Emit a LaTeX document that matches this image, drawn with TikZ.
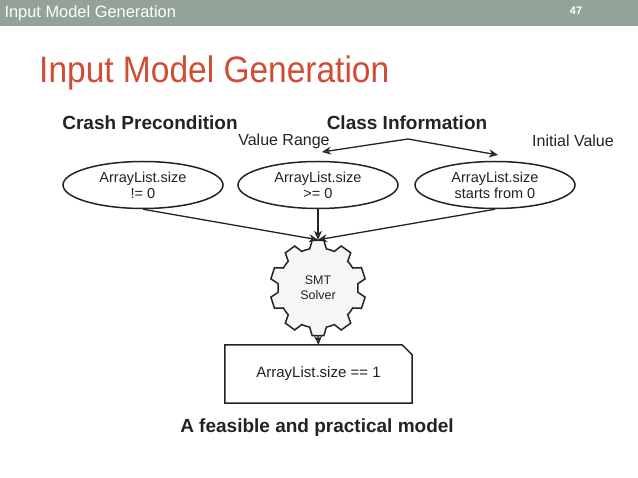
\documentclass[tikz,border=0pt]{standalone}
\usepackage{fontspec}
\setmainfont{Liberation Sans}
\usetikzlibrary{shapes.geometric,arrows.meta}
\definecolor{bar}{RGB}{147,163,151}
\definecolor{ttl}{RGB}{208,76,52}
\definecolor{ink}{RGB}{35,35,35}
\begin{document}
\begin{tikzpicture}[x=1pt,y=-1pt,
  ell/.style={ellipse,draw=ink,line width=1.5pt,minimum width=160pt,minimum height=47pt,align=center,font=\fontsize{14.5}{16}\selectfont,text=ink,inner sep=0pt},
  arr/.style={draw=ink,line width=1.3pt,-{Stealth[length=9pt,width=8pt,open]}},
  hd/.style={font=\bfseries\fontsize{19}{21}\selectfont,text=ink},
  lb/.style={font=\fontsize{16}{18}\selectfont,text=ink}]
\useasboundingbox (0,0) rectangle (638,478);
\fill[white] (0,0) rectangle (638,478);
\fill[bar] (0,0) rectangle (638,26);
\node[anchor=west,text=white,font=\fontsize{16.4}{18}\selectfont] (hdr) at (1,13) {Input Model Generation};
\node[text=white,font=\bfseries\fontsize{11}{13}\selectfont] (pg) at (576,11) {47};
\node[anchor=west,text=ttl,font=\fontsize{33.5}{38}\selectfont,inner sep=0pt,yscale=1.1] (title) at (39,73) {Input Model Generation};
\node[hd] (cp) at (150,123) {Crash Precondition};
\node[hd] (ci) at (407,123) {Class Information};
\node[lb] (vr) at (284,141) {Value Range};
\node[lb] (iv) at (573,141) {Initial Value};
\node[ell] (e1) at (143,185) {ArrayList.size\\!= 0};
\node[ell] (e2) at (318,185) {ArrayList.size\\>= 0};
\node[ell] (e3) at (495,185) {ArrayList.size\\starts from 0};
\coordinate (cib) at (408,139);
\coordinate (e2t) at (322,152);
\coordinate (e3t) at (498,155);
\draw[arr] (cib) -- (e2t);
\draw[arr] (cib) -- (e3t);
% gear
\begin{scope}[shift={(318,288)}]
\draw[fill=gray!7,draw=ink,line width=1.5pt]
  (78:40) \foreach \i in {0,...,9}{
    -- ({90+36*\i-12}:40) -- ({90+36*\i-7}:48) -- ({90+36*\i+7}:48) -- ({90+36*\i+12}:40)
    arc[start angle={90+36*\i+12}, end angle={90+36*\i+24}, radius=40]} -- cycle;
\end{scope}
\node[circle,minimum size=96pt,inner sep=0pt,align=center,text=ink,font=\fontsize{12.5}{15}\selectfont] (gear) at (318,288) {SMT\\Solver};
\draw[arr] (e1.south) -- (gear.north);
\draw[arr] (e2.south) -- (gear.north);
\draw[arr] (e3.south) -- (gear.north);
% box
\node[minimum width=187pt,minimum height=58pt,inner sep=0pt,text=ink,font=\fontsize{15}{17}\selectfont] (box) at (318.5,374) {ArrayList.size == 1};
\draw[ink,line width=1.5pt] (box.north west) -- ([xshift=-10pt]box.north east) -- ([yshift=-10pt]box.north east) -- (box.south east) -- (box.south west) -- cycle;
\draw[arr] (gear.south) -- (box.north);
\node[hd] (cap) at (317,428) {A feasible and practical model};
\end{tikzpicture}
\end{document}
